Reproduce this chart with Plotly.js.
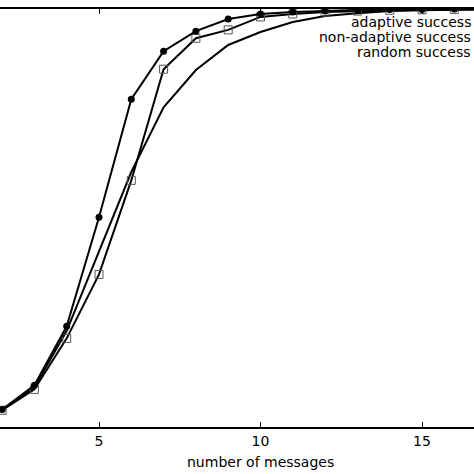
<!DOCTYPE html>
<html>
<head>
<meta charset="utf-8">
<script src="https://cdn.plot.ly/plotly-3.0.1.min.js"></script>
<style>
  html, body { margin: 0; padding: 0; background: #fff; }
  #grafica { width: 474px; height: 474px; }
</style>
</head>
<body>
<div id="grafica"></div>
<script>
// datos
var mensajes = [2, 3, 4, 5, 6, 7, 8, 9, 10, 11, 12, 13, 14, 15, 16, 17];
var adaptativo = [0.042, 0.10, 0.241, 0.502, 0.784, 0.899, 0.947, 0.976, 0.988, 0.993, 0.995, 0.998, 0.999, 0.999, 1.0, 1.0];
var no_adaptativo = [0.04, 0.09, 0.212, 0.365, 0.59, 0.856, 0.93, 0.95, 0.981, 0.988, 0.993, 0.995, 0.997, 0.998, 0.999, 0.999];
var aleatorio = [0.04, 0.095, 0.23, 0.418, 0.61, 0.765, 0.854, 0.914, 0.945, 0.969, 0.983, 0.99, 0.995, 0.997, 0.999, 0.999];
var nombres = ['adaptive success', 'non-adaptive success', 'random success'];
var titulo_x = 'number of messages';

function curvas_exito(){
    var fuente = 'DejaVu Sans, sans-serif';

    var trace1 = {
        x: mensajes, y: adaptativo, name: nombres[0],
        type: 'scatter', mode: 'lines+markers',
        line: {color: '#000', width: 2},
        marker: {symbol: 'circle', size: 7, color: '#000'}
    };
    var trace2 = {
        x: mensajes, y: no_adaptativo, name: nombres[1],
        type: 'scatter', mode: 'lines+markers',
        line: {color: '#000', width: 2},
        marker: {symbol: 'square-open', size: 8, color: '#555', line: {width: 1}}
    };
    var trace3 = {
        x: mensajes, y: aleatorio, name: nombres[2],
        type: 'scatter', mode: 'lines',
        line: {color: '#000', width: 2}
    };

    // leyenda como texto (los simbolos quedan recortados en la original)
    var notas = nombres.map(function(n, i){
        return {
            text: n, xref: 'paper', yref: 'paper',
            x: 0.998, y: [0.969, 0.933, 0.897][i],
            xanchor: 'right', yanchor: 'middle', showarrow: false,
            font: {family: fuente, size: 14, color: '#000'}
        };
    });
    notas.push({
        text: titulo_x, xref: 'x', yref: 'paper', x: 10, y: -0.0837,
        xanchor: 'center', yanchor: 'middle', showarrow: false,
        font: {family: fuente, size: 14, color: '#000'}
    });

    var layout = {
        width: 474, height: 474,
        margin: {t: 9, b: 47, l: 0, r: 0},
        paper_bgcolor: '#fff', plot_bgcolor: '#fff',
        showlegend: false,
        font: {family: fuente, size: 14, color: '#000'},
        xaxis: {
            range: [1.935, 16.61],
            tickvals: [5, 10, 15],
            ticks: 'inside', ticklen: 5, tickwidth: 1, tickcolor: '#000',
            showline: true, linecolor: '#000', linewidth: 1.5, mirror: 'allticks',
            showgrid: false, zeroline: false,
            tickfont: {family: fuente, size: 14, color: '#000'}
        },
        yaxis: {
            range: [0, 1],
            showticklabels: false, ticks: '', showline: false,
            showgrid: false, zeroline: false
        },
        annotations: notas
    };

    Plotly.newPlot('grafica', [trace3, trace2, trace1], layout, {displayModeBar: false});
}

curvas_exito();
</script>
</body>
</html>
